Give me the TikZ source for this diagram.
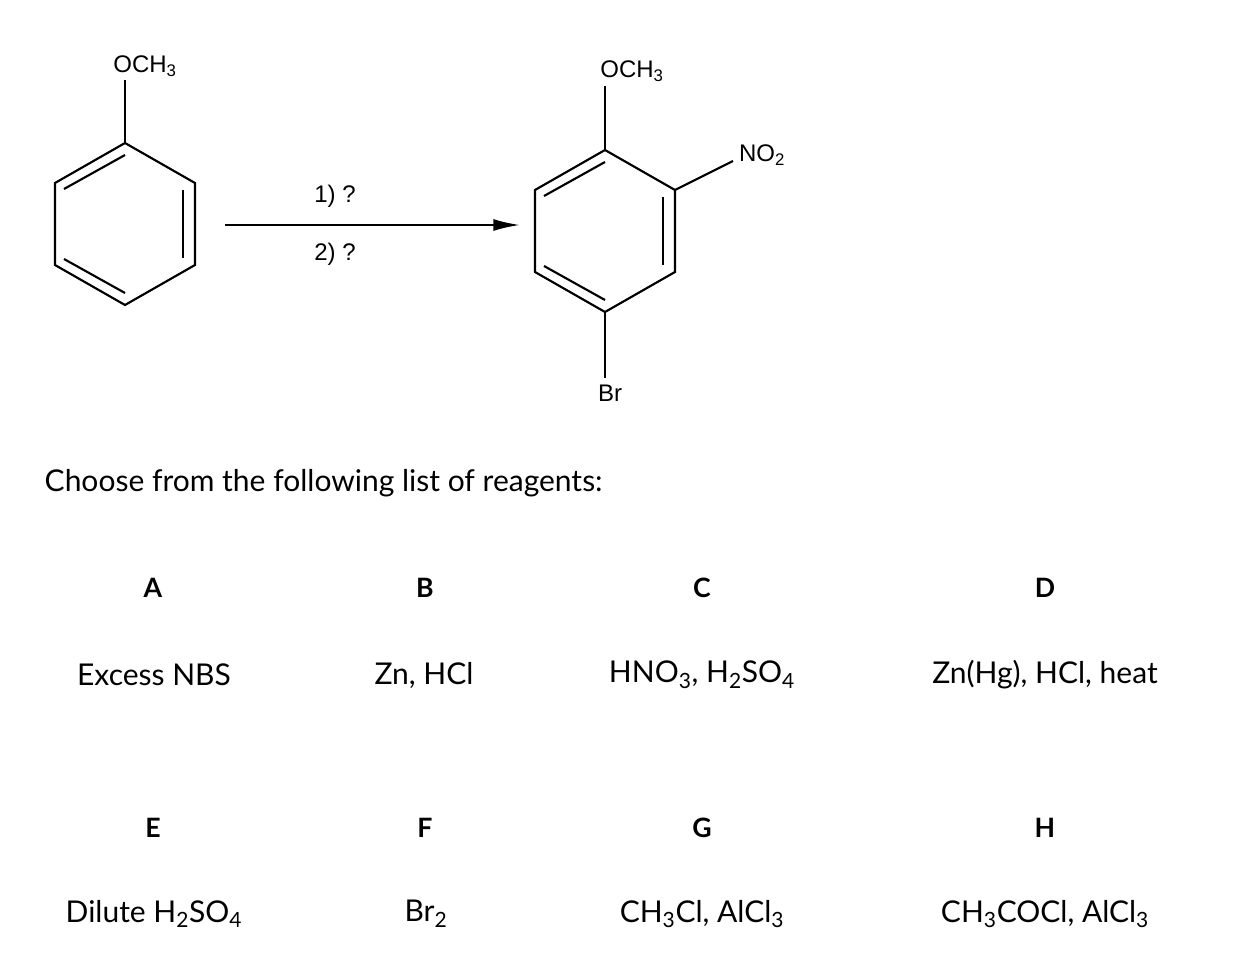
\documentclass[tikz,border=0pt]{standalone}
\usepackage{fontspec}
\setmainfont{Lato}
\newfontfamily\chemf{Liberation Sans}
\usetikzlibrary{arrows.meta}
\newcommand\sbs[1]{\textsubscript{#1}}
\begin{document}
\begin{tikzpicture}[x=0.75pt,y=-0.75pt,
  bond/.style={line width=1.6pt},
  chem/.style={font=\chemf\fontsize{18}{21}\selectfont,inner sep=1pt},
  lett/.style={font=\bfseries\fontsize{20}{23}\selectfont},
  reag/.style={font=\fontsize{22.5}{26}\selectfont},
  every node/.style={anchor=center}]
\useasboundingbox (0,0) rectangle (1248,966);
% left ring
\coordinate (a1) at (125,143); \coordinate (a2) at (195,183); \coordinate (a3) at (195,265);
\coordinate (a4) at (125,305); \coordinate (a5) at (55,265); \coordinate (a6) at (55,183);
\draw[bond] (a1)--(a2)--(a3)--(a4)--(a5)--(a6)--cycle;
\draw[bond] (64,189)--(125,155);
\draw[bond] (183,190)--(183,258);
\draw[bond] (64,259)--(125,293);
\node[chem] (o1) at (145,66) {OCH\sbs{3}};
\draw[bond] (a1)--(125,80);
% right ring
\coordinate (b1) at (605,150); \coordinate (b2) at (675,190); \coordinate (b3) at (675,272);
\coordinate (b4) at (605,312); \coordinate (b5) at (535,272); \coordinate (b6) at (535,190);
\draw[bond] (b1)--(b2)--(b3)--(b4)--(b5)--(b6)--cycle;
\draw[bond] (544,196)--(605,162);
\draw[bond] (663,197)--(663,265);
\draw[bond] (544,266)--(605,300);
\node[chem] (o2) at (632,71) {OCH\sbs{3}};
\draw[bond] (b1)--(605,86);
\node[chem] (n2) at (762,155) {NO\sbs{2}};
\draw[bond] (b2)--(733,161);
\node[chem] (br) at (610,393) {Br};
\draw[bond] (b4)--(605,378);
% arrow
\coordinate (s) at (225,225); \coordinate (e) at (520,225);
\draw[line width=1.6pt,-{Latex[length=20pt,width=9pt]}] (s)--(e);
\node[chem] (r1) at (335,196) {1) ?};
\node[chem] (r2) at (335,254) {2) ?};
\node[reag,anchor=west] (q) at (40,483) {Choose from the following list of reagents:};
\node[lett] (A) at (153,588) {A}; \node[lett] (B) at (425,588) {B};
\node[lett] (C) at (702,588) {C}; \node[lett] (D) at (1045,588) {D};
\node[reag] (ra) at (154,675) {Excess NBS};
\node[reag] (rb) at (424,675) {Zn, HCl};
\node[reag] (rc) at (702,675) {HNO\sbs{3}, H\sbs{2}SO\sbs{4}};
\node[reag] (rd) at (1045,675) {Zn(Hg), HCl, heat};
\node[lett] (E) at (153,828) {E}; \node[lett] (F) at (425,828) {F};
\node[lett] (G) at (702,828) {G}; \node[lett] (H) at (1045,828) {H};
\node[reag] (re) at (154,914) {Dilute H\sbs{2}SO\sbs{4}};
\node[reag] (rf) at (426,914) {Br\sbs{2}};
\node[reag] (rg) at (702,914) {CH\sbs{3}Cl, AlCl\sbs{3}};
\node[reag] (rh) at (1045,914) {CH\sbs{3}COCl, AlCl\sbs{3}};
\end{tikzpicture}
\end{document}
